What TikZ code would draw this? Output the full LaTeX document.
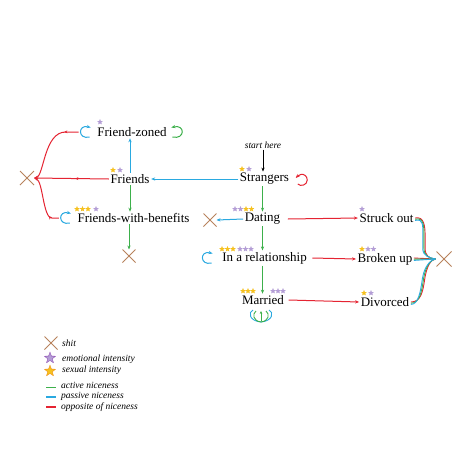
\documentclass[tikz,border=0pt]{standalone}
\usepackage{fontspec}
\setmainfont{Liberation Serif}
\usetikzlibrary{arrows.meta,shapes.misc,calc,decorations.markings}
\definecolor{cred}{HTML}{E52432}
\definecolor{cblue}{HTML}{2AA9E0}
\definecolor{cgreen}{HTML}{3DB04B}
\definecolor{cbrown}{HTML}{B8825C}
\definecolor{cyel}{HTML}{F6C11E}
\definecolor{cpur}{HTML}{B49ED6}
\definecolor{cpurd}{HTML}{9457B8}
\definecolor{corange}{HTML}{F0961E}
\newcommand\mystar[4]{%
  \filldraw[shift={(#1,#2)},fill=#4,draw=#4,line width=0.2pt] (-90:#3)
  \foreach \i in {0,...,4}{ -- ({-54+\i*72}:{0.42*#3}) -- ({-18+\i*72}:#3)} -- cycle;}
\newcommand\ys[2]{\mystar{#1}{#2}{2.6}{cyel}}
\newcommand\ps[2]{\mystar{#1}{#2}{2.6}{cpur}}
\begin{document}
\begin{tikzpicture}[x=1pt,y=-1pt,
  lbl/.style={font=\fontsize{13}{15}\selectfont, inner sep=1.5pt},
  note/.style={font=\fontsize{9.5}{11}\selectfont\itshape, inner sep=1pt},
  xmk/.style={cross out, draw=cbrown, line width=1pt, minimum size=#1, inner sep=0pt},
  xmk/.default=12pt,
  tipa/.style={-{Stealth[length=4pt,width=3.2pt]}},
  grn/.style={cgreen, line width=1pt, tipa},
  blu/.style={cblue, line width=1pt, tipa},
  rd/.style={cred, line width=1pt, tipa},
  midarr/.style={postaction={decorate}, decoration={markings, mark=at position #1 with {\arrow{Stealth[length=3.2pt,width=2.8pt]}}}},
  bundle/.style={line width=0.9pt},
  leg/.style={line width=1.4pt}
]
\useasboundingbox (0,0) rectangle (474,474);
\fill[white] (0,0) rectangle (474,474);

% main nodes
\node[lbl] (str) at (264.5,179) {Strangers};
\node[lbl] (fr) at (130,179) {Friends};
\node[lbl] (fz) at (132,132) {Friend-zoned};
\node[lbl] (fwb) at (133.5,218) {Friends-with-benefits};
\node[lbl] (dat) at (262.5,219) {Dating};
\node[lbl] (rel) at (264.5,258) {In a relationship};
\node[lbl] (mar) at (263,300) {Married};
\node[lbl] (so) at (386.5,218) {Struck out};
\node[lbl] (bu) at (385,259) {Broken up};
\node[lbl] (div) at (385,302) {Divorced};
\node[note] (start) at (263,145) {start here};

% crosses
\node[xmk=13pt] (x1) at (27,178) {};
\node[xmk] (x2) at (129,256) {};
\node[xmk] (x3) at (210,220) {};
\node[xmk=14pt] (x4) at (444,259) {};

% stars
\ys{242}{169}\ps{249}{169}
\ys{113}{170}\ps{120}{170}
\ps{100}{122}
\ys{77}{209}\ys{82.5}{209}\ys{88}{209}\ps{96}{209}
\ps{235}{209}\ps{240.5}{209}\ys{246}{209}\ys{251.5}{209}
\ps{362}{209}
\ys{222}{249}\ys{227.5}{249}\ys{233}{249}\ps{240}{249}\ps{245.5}{249}\ps{251}{249}
\ys{362}{249}\ps{368}{249}\ps{373.5}{249}
\ys{243}{291}\ys{248}{291}\ys{253}{291}\ps{273}{291}\ps{278}{291}\ps{283}{291}
\ys{364}{293}\ps{371}{293}

% connectors
\draw[black, line width=0.8pt, tipa] (start.south) -- (start.south |- str.north);
\draw[blu] (str.west) -- (fr.east);
\draw[blu] (fr.north) -- (fr.north |- fz.south);
\draw[grn] (fr.south) -- (fr.south |- fwb.north);
\draw[grn] (x2 |- fwb.south) -- (x2.north);
\draw[grn] (dat |- str.south) -- (dat.north);
\draw[blu] (dat.west) -- (x3.east);
\draw[rd] ([xshift=6pt]dat.east) -- (so.west);
\draw[grn] (dat.south) -- (dat.south |- rel.north);
\draw[rd] ([xshift=4pt]rel.east) -- (bu.west);
\draw[grn] (dat |- rel.south) -- (dat |- mar.north);
\draw[rd] ([xshift=3pt]mar.east) -- (div.west);

% self loops
\coordinate (fzc) at ($(fz.west)+(-10,0)$);
\draw[blu] ($(fzc)+(4,5)$) .. controls ($(fzc)+(-8,8)$) and ($(fzc)+(-8,-8)$) .. ($(fzc)+(5,-4.5)$);
\coordinate (fzg) at ($(fz.east)+(8,0)$);
\draw[grn] ($(fzg)+(-4,5)$) .. controls ($(fzg)+(9,8)$) and ($(fzg)+(9,-8)$) .. ($(fzg)+(-5,-4.5)$);
\coordinate (fwc) at ($(fwb.west)+(-10,0)$);
\draw[blu] ($(fwc)+(4,5)$) .. controls ($(fwc)+(-8,8)$) and ($(fwc)+(-8,-8)$) .. ($(fwc)+(5,-4.5)$);
\coordinate (rlc) at ($(rel.west)+(-13,0)$);
\draw[blu] ($(rlc)+(4,5)$) .. controls ($(rlc)+(-8,8)$) and ($(rlc)+(-8,-8)$) .. ($(rlc)+(5,-4.5)$);
\coordinate (stc) at ($(str.east)+(11,1)$);
\draw[rd] ($(stc)+(-4,4)$) .. controls ($(stc)+(-1,7)$) and ($(stc)+(5.5,5)$) .. ($(stc)+(5.5,0)$)
  .. controls ($(stc)+(5.5,-4)$) and ($(stc)+(2,-6.5)$) .. ($(stc)+(-1,-5.5)$)
  .. controls ($(stc)+(-2.5,-5)$) and ($(stc)+(-4,-4)$) .. ($(stc)+(-6,-2)$);

% married loops
\coordinate (mlc) at (261,322);
\draw[cblue, line width=0.9pt] (mlc) .. controls ($(mlc)+(-12,-1)$) and ($(mlc)+(-13,-10)$) .. ($(mlc)+(-8,-12)$);
\draw[cblue, line width=0.9pt] (mlc) .. controls ($(mlc)+(12,-1)$) and ($(mlc)+(13,-10)$) .. ($(mlc)+(8,-12)$);
\draw[cgreen, line width=0.9pt] (mlc) .. controls ($(mlc)+(-8,-1)$) and ($(mlc)+(-9,-8)$) .. ($(mlc)+(-5,-11)$);
\draw[cgreen, line width=0.9pt] (mlc) .. controls ($(mlc)+(8,-1)$) and ($(mlc)+(9,-8)$) .. ($(mlc)+(5,-11)$);
\draw[cgreen, line width=0.8pt, -{Stealth[length=3pt,width=2.6pt]}] ($(mlc)+(0,-1)$) -- ($(mlc)+(0,-11)$);

% red lines to left cross
\draw[rd, midarr=0.45] (fr.west) -- (x1.east);
\draw[rd, midarr=0.2] ($(fzc)+(-7,0)$) -- ($(fzc)+(-20,0)$)
  .. controls (44,132) and (44,176) .. (x1.east);
\draw[rd, midarr=0.2] ($(fwc)+(-7,0)$) -- ($(fwc)+(-14,0)$)
  .. controls (43,218) and (43,181) .. (x1.east);

% right bundle
\foreach \c/\d in {cred/0, cgreen/1.2, cblue/2.4}{
  \draw[bundle,\c] ($(so.east)+(0,\d)$) .. controls ($(so.east)+(9,\d-2)$) and ($(so.east)+(10-\d,8)$) .. ($(so.east)+(10-\d,18)$)
     -- ($(so.east)+(10-\d,30)$) .. controls ($(so.east)+(10-\d,38)$) and ($(so.east)+(14,40.5-\d*0.3)$) .. ($(x4.west)+(-1,0)$);
  \draw[bundle,\c] ($(bu.east)+(0,-1+\d)$) -- ($(x4.west)+(-1,0)$);
  \draw[bundle,\c] ($(div.east)+(0,\d)$) .. controls ($(div.east)+(10-\d,\d)$) and ($(div.east)+(12-\d,-10)$) .. ($(div.east)+(14-\d,-24)$)
     .. controls ($(div.east)+(16-\d,-36)$) and ($(div.east)+(20,-42.5)$) .. ($(x4.west)+(-1,0)$);
}

% legend
\node[xmk=12pt] (lx) at (51,343) {};
\node[note, anchor=west] (l1) at (61,343) {shit};
\mystar{50}{358}{6}{cpurd}
\mystar{50}{358}{4.4}{cpur}
\node[note, anchor=west] (l2) at (61,359) {emotional intensity};
\mystar{50}{371}{6}{corange}
\mystar{50}{371}{4.4}{cyel}
\node[note, anchor=west] (l3) at (61,370.5) {sexual intensity};
\node[note, anchor=west] (l4) at (60,385) {active niceness};
\node[note, anchor=west] (l5) at (60,396) {passive niceness};
\node[note, anchor=west] (l6) at (60,407) {opposite of niceness};
\draw[cgreen, leg] (46,387.5) -- (56,387.5);
\draw[cblue, leg] (46,397) -- (56,397);
\draw[cred, leg] (46,407) -- (56,407);
\end{tikzpicture}
\end{document}
